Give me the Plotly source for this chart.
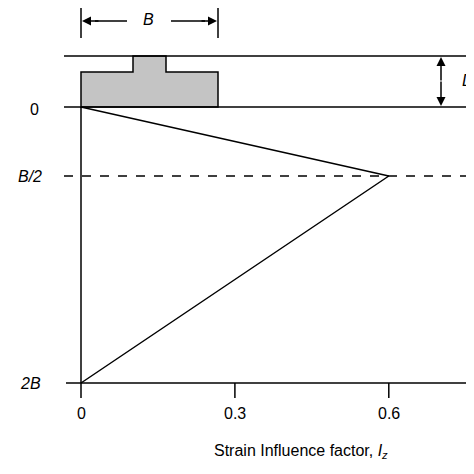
import plotly.graph_objects as go

# data
depth = [0, 0.5, 2.0]        # in units of B
iz = [0, 0.6, 0]
x_ticks = [0, 0.3, 0.6]
x_tick_labels = ["0", "0.3", "0.6"]
y_ticks = [0, 0.5, 2.0]
y_tick_labels = ["0", "<i>B/2</i>", "<i>2B</i>"]

PX = 513.0   # pixels per Iz unit
PY = 138.0   # pixels per B
def xp(p): return (p - 81) / PX
def yp(p): return (p - 107) / PY

F = dict(family="Liberation Sans, Arial", size=16, color="black")
fig = go.Figure()
fig.add_trace(go.Scatter(x=iz, y=depth, mode="lines", line=dict(color="black", width=1.5), showlegend=False))

shapes = []
L = dict(color="black", width=1.5)
# footing
fx = [0, 0, xp(133), xp(133), xp(166), xp(166), xp(218), xp(218), 0]
fy = [0, yp(72), yp(72), yp(56), yp(56), yp(72), yp(72), 0, 0]
path = "M " + " L ".join(f"{a},{b}" for a, b in zip(fx, fy)) + " Z"
shapes.append(dict(type="path", path=path, fillcolor="#c4c4c4", line=L, layer="below"))
shapes.append(dict(type="line", x0=xp(64), x1=xp(490), y0=yp(56), y1=yp(56), line=L))
shapes.append(dict(type="line", x0=xp(64), x1=xp(490), y0=0, y1=0, line=L))
shapes.append(dict(type="line", x0=xp(64), x1=xp(490), y0=0.5, y1=0.5, line=dict(color="black", width=1.3, dash="dash")))
shapes.append(dict(type="line", x0=xp(66), x1=xp(490), y0=2, y1=2, line=L))
shapes.append(dict(type="line", x0=0, x1=0, y0=0, y1=2, line=L))
for t in x_ticks:
    shapes.append(dict(type="line", x0=t, x1=t, y0=2, y1=yp(398), line=L))
# B dimension
for p in (81, 218):
    shapes.append(dict(type="line", x0=xp(p), x1=xp(p), y0=yp(4), y1=yp(38), line=L))
shapes.append(dict(type="line", x0=xp(95), x1=xp(127), y0=yp(21), y1=yp(21), line=L))
shapes.append(dict(type="line", x0=xp(171), x1=xp(205), y0=yp(21), y1=yp(21), line=L))
fig.update_layout(shapes=shapes)

ann = []
A = dict(showarrow=True, arrowhead=2, arrowsize=1.2, arrowwidth=1.5, arrowcolor="black",
         axref="x", ayref="y", text="")
ann.append(dict(A, x=xp(82), y=yp(21), ax=xp(100), ay=yp(21)))
ann.append(dict(A, x=xp(217), y=yp(21), ax=xp(200), ay=yp(21)))
ann.append(dict(A, x=xp(441), y=yp(57), ax=xp(441), ay=yp(82)))
ann.append(dict(A, x=xp(441), y=yp(106), ax=xp(441), ay=yp(80)))
ann.append(dict(text="<i>B</i>", x=xp(148), y=yp(19), showarrow=False, font=F))
ann.append(dict(text="<i>D</i>", x=xp(460), y=yp(80), showarrow=False, font=F, xanchor="left"))
for t, lab in zip(x_ticks, x_tick_labels):
    ann.append(dict(text=lab, x=t, y=yp(413), showarrow=False, font=F))
for t, lab, xx in zip(y_ticks, y_tick_labels, (34, 30, 30)):
    ann.append(dict(text=lab, x=xp(xx), y=t, showarrow=False, font=F, yshift=-2 if t == 0 else 0))
ann.append(dict(text="Strain Influence factor, <i>I<sub>z</sub></i>", x=xp(301), y=yp(451), showarrow=False, font=F))
ann.append(dict(text="Depth below load", x=xp(0), y=yp(230), showarrow=False, font=F, textangle=-90))
fig.update_layout(annotations=ann)

fig.update_layout(
    width=474, height=474, margin=dict(l=0, r=0, t=0, b=0),
    paper_bgcolor="white", plot_bgcolor="white",
    xaxis=dict(range=[xp(8), xp(482)], visible=False, fixedrange=True),
    yaxis=dict(range=[yp(482), yp(8)], visible=False, fixedrange=True),
)
fig.write_html("out.html")
